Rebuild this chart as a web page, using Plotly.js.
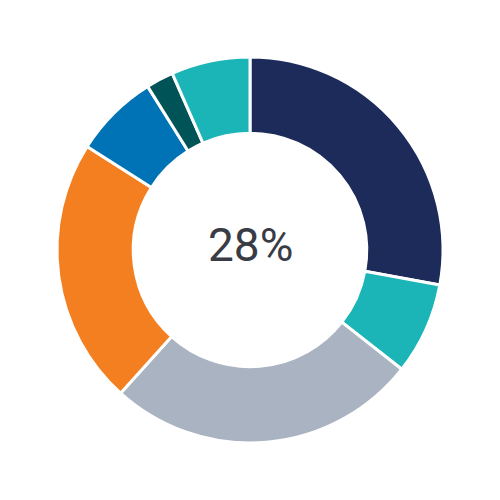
<!DOCTYPE html>
<html>
<head>
<meta charset="utf-8">
<script src="https://cdn.plot.ly/plotly-3.0.1.min.js"></script>
<style>
  html, body { margin: 0; padding: 0; background: #fff; }
  #chart { width: 500px; height: 500px; }
</style>
</head>
<body>
<div id="chart"></div>
<script>
// slice shares, clockwise from 12 o'clock
var labels = ['A', 'B', 'C', 'D', 'E', 'F', 'G'];
var shares = [27.9, 7.7, 26.1, 22.3, 7.1, 2.3, 6.6];
var colors = ['#1c2b5a', '#1bb5b8', '#a9b3c1', '#f47f20', '#0073b6', '#005356', '#1bb5b8'];
var centerLabel = '28%';

var trace = {
  type: 'pie',
  labels: labels,
  values: shares,
  sort: false,
  direction: 'clockwise',
  rotation: 0,
  hole: 0.605,
  textinfo: 'none',
  hoverinfo: 'none',
  marker: { colors: colors, line: { color: '#ffffff', width: 3 } }
};

var layout = {
  width: 500,
  height: 500,
  margin: { l: 57, r: 57, t: 57, b: 57 },
  showlegend: false,
  paper_bgcolor: '#ffffff',
  annotations: [{
    text: centerLabel,
    x: 0.5, y: 0.5, xref: 'paper', yref: 'paper',
    yshift: 5,
    showarrow: false,
    font: { family: 'Roboto, sans-serif', size: 46, color: '#393c45' }
  }]
};

Plotly.newPlot('chart', [trace], layout, { displayModeBar: false, staticPlot: true });
</script>
</body>
</html>
